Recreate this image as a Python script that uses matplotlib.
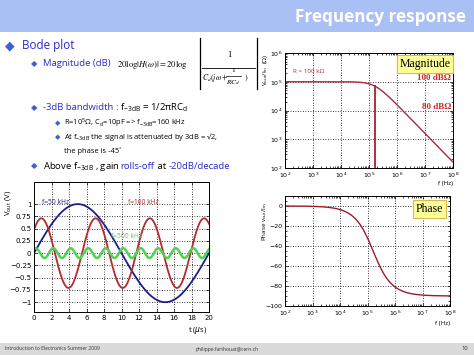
#!/usr/bin/env python3

import numpy as np
import matplotlib.pyplot as plt
from matplotlib.patches import Rectangle
from matplotlib.lines import Line2D

# Values
R_ohm = 1e5              # R = 100 kOhm
f_3db = 160e3            # -3dB frequency (Hz)
f_range = (1e2, 1e8)     # frequency axis (Hz)

# time-domain signals: label, period (us), amplitude (V), zero-crossing time (us), colour
sig_labels = ["f=50 kHz", "f=160 kHz", "f=500 kHz"]
sig_period_us = [20.0, 6.2, 2.0]
sig_amp = [1.0, 0.71, 0.1]
sig_t0 = [0.0, -0.71, -0.3]
sig_colors = ["#1c1c8c", "#b52a30", "#4fd24f"]
sig_lw = [1.3, 1.3, 1.8]

mag_ticks = [1e2, 1e3, 1e4, 1e5, 1e6]
phase_ticks = [0, -20, -40, -60, -80, -100]
vout_ticks = [1, 0.75, 0.5, 0.25, 0, -0.25, -0.5, -0.75, -1]
t_ticks = list(range(0, 21, 2))

W, H = 474, 355
BLUE_TXT = "#2a2ac8"
BULLET = "#3a5fdc"
SANS = ["Open Sans", "DejaVu Sans"]
SERIF = ["Liberation Serif", "DejaVu Serif"]
SUB = "$_{\\mathregular{%s}}$"
SUP = "$^{\\mathregular{%s}}$"


def px(x, y):
    return x / W, 1 - y / H


def axes_px(fig, left, top, right, bottom):
    return fig.add_axes([left / W, 1 - bottom / H, (right - left) / W, (bottom - top) / H])


def hline_px(fig, x0, x1, y0, y1, lw=0.8):
    fig.add_artist(Line2D([x0 / W, x1 / W], [1 - y0 / H, 1 - y1 / H],
                          transform=fig.transFigure, color="black", lw=lw))


def text_run(fig, x, y, parts, fontsize):
    # write a line made of several coloured pieces, one after the other
    xf = x / W
    for s, c in parts:
        t = fig.text(xf, 1 - y / H, s, color=c, fontsize=fontsize, family=SANS, va="center")
        fig.canvas.draw()
        xf = t.get_window_extent().x1 / (fig.dpi * fig.get_figwidth())


def style_axes(ax):
    ax.tick_params(which="both", direction="in", labelsize=4.5, top=True, right=True, pad=2,
                   length=2.5, width=0.5)
    ax.tick_params(which="minor", length=1.3)
    for s in ax.spines.values():
        s.set_linewidth(0.7)
    ax.grid(True, which="major", linestyle=(0, (1, 2)), color="black", linewidth=0.6)


fig = plt.figure(figsize=(W / 100, H / 100), dpi=100)
fig.patch.set_facecolor("white")

# header band and footer band
fig.add_artist(Rectangle(px(0, 32), 1, 32 / H, transform=fig.transFigure,
                         facecolor="#a9c0f5", edgecolor="none"))
fig.text(*px(466, 17), "Frequency response", color="white", fontsize=12.3,
         fontweight="bold", family=SANS, ha="right", va="center")
fig.add_artist(Rectangle(px(0, 355), 1, 12 / H, transform=fig.transFigure,
                         facecolor="#dadada", edgecolor="none"))
fig.text(*px(5, 349), "Introduction to Electronics Summer 2009", fontsize=3.6,
         color="#333333", family=SANS, va="center")
fig.text(*px(196, 349), "philippe.farthouat@cern.ch", fontsize=3.6,
         color="#333333", family=SANS, va="center")
fig.text(*px(468, 349), "10", fontsize=4.2, color="#333333", family=SANS,
         va="center", ha="right")

# bullet text
fig.text(*px(5, 46), "\u25C6", color=BULLET, fontsize=9, family=["DejaVu Sans"], va="center")
fig.text(*px(22, 46), "Bode plot", color=BLUE_TXT, fontsize=8.4, family=SANS, va="center")

for y in (64, 108, 166):
    fig.text(*px(31, y), "\u25C6", color=BULLET, fontsize=6, family=["DejaVu Sans"], va="center")
for y in (123, 137):
    fig.text(*px(55, y), "\u25C6", color=BULLET, fontsize=5, family=["DejaVu Sans"], va="center")

fig.text(*px(43, 64), "Magnitude (dB)", color=BLUE_TXT, fontsize=6.8, family=SANS, va="center")

# formula 20log|H(w)| = 20log | 1 / (C_d (jw + 1/RC_d)) |
fig.text(*px(117, 65), r"$\mathrm{20log}|H(\omega)| = \mathrm{20log}$", fontsize=6.2,
         va="center", math_fontfamily="stix")
hline_px(fig, 200, 200, 38, 89, lw=0.9)
hline_px(fig, 257, 257, 38, 89, lw=0.9)
fig.text(*px(229, 55), "1", fontsize=6.2, family=SERIF, ha="center", va="center")
hline_px(fig, 202, 255, 67.5, 67.5, lw=0.6)
fig.text(*px(202, 78), r"$C_d(j\omega+$", fontsize=5.6, va="center", math_fontfamily="stix")
fig.text(*px(233, 71), "1", fontsize=5.4, family=SERIF, ha="center", va="center")
hline_px(fig, 226, 241, 75.5, 75.5, lw=0.5)
fig.text(*px(233.5, 82.5), r"$RC_d$", fontsize=5.4, ha="center", va="center",
         math_fontfamily="stix")
fig.text(*px(244, 78), r"$)$", fontsize=5.8, va="center", math_fontfamily="stix")

text_run(fig, 43, 108, [("-3dB bandwidth", BLUE_TXT),
                        (" : f" + SUB % "-3dB" + " = 1/2\u03C0RC" + SUB % "d", "black")], 6.8)
text_run(fig, 64, 123, [("R=10" + SUP % "5" + "\u03A9, C" + SUB % "d" + "=10pF => f"
                         + SUB % "-3dB" + "=160 kHz", "black")], 5.4)
text_run(fig, 64, 137, [("At f" + SUB % "-3dB" + " the signal is attenuated by 3dB = \u221A2,",
                         "black")], 5.4)
text_run(fig, 64, 151, [("the phase is -45\u02DA", "black")], 5.4)
text_run(fig, 43, 166, [("Above f" + SUB % "-3dB" + " , gain ", "black"), ("rolls-off", BLUE_TXT),
                        (" at ", "black"), ("-20dB/decade", BLUE_TXT)], 6.8)

# Magnitude plot
freq = np.logspace(np.log10(f_range[0]), np.log10(f_range[1]), 500)
mag = R_ohm / np.sqrt(1 + (freq / f_3db) ** 2)
phase = -np.degrees(np.arctan(freq / f_3db))

ax_m = axes_px(fig, 285, 53, 453, 168)
ax_m.plot(freq, mag, color="#b0283a", lw=1.0)
ax_m.plot([f_3db, f_3db], [mag_ticks[0], R_ohm / np.sqrt(2)], color="#a82030", lw=1.3)
ax_m.set_xscale("log")
ax_m.set_yscale("log")
ax_m.set_xlim(*f_range)
ax_m.set_ylim(mag_ticks[0], mag_ticks[-1])
ax_m.set_yticks(mag_ticks)
style_axes(ax_m)
ax_m.text(2e2, 2.0e5, "R = 100 k\u03A9", color="#b0283a", fontsize=4.5, family=SANS)
ax_m.text(8.5e7, 1.35e5, "100 dB\u03A9", color="#d02828", fontsize=6.5, family=SERIF,
          fontweight="bold", ha="right", va="center")
ax_m.text(8.5e7, 1.35e4, "80 dB\u03A9", color="#d02828", fontsize=6.5, family=SERIF,
          fontweight="bold", ha="right", va="center")
ax_m.text(0.985, 0.96, "Magnitude", transform=ax_m.transAxes, ha="right", va="top",
          fontsize=8.5, family=SERIF,
          bbox=dict(boxstyle="square,pad=0.25", facecolor="#ffff99", edgecolor="#d8b850", lw=0.8))
fig.text(*px(265, 70), "V" + SUB % "out" + "/I" + SUB % "in" + "  (\u03A9)", rotation=90,
         fontsize=4.5, family=SANS, ha="center", va="center")
fig.text(*px(453, 184), "f (Hz)", fontsize=4.5, family=SANS, ha="right", va="center")

# Phase plot
ax_p = axes_px(fig, 285, 196, 450, 306)
ax_p.plot(freq, phase, color="#a01c2c", lw=1.0)
ax_p.set_xscale("log")
ax_p.set_xlim(*f_range)
ax_p.set_ylim(-100, 10)
ax_p.set_yticks(phase_ticks)
ax_p.set_yticklabels([str(v).replace("-", "\u2212") for v in phase_ticks])
ax_p.minorticks_on()
style_axes(ax_p)
ax_p.text(0.96, 0.94, "Phase", transform=ax_p.transAxes, ha="right", va="top",
          fontsize=8.5, family=SERIF,
          bbox=dict(boxstyle="square,pad=0.25", facecolor="#ffff99", edgecolor="#d8b850", lw=0.8))
fig.text(*px(265, 222), "Phase v" + SUB % "out" + "/I" + SUB % "in", rotation=90,
         fontsize=4.5, family=SANS, ha="center", va="center")
fig.text(*px(450, 323), "f (Hz)", fontsize=4.5, family=SANS, ha="right", va="center")

# Time-domain plot
t = np.linspace(0, 20, 800)
ax_t = axes_px(fig, 34, 182, 209, 312)
for T, A, t0, c, lw in zip(sig_period_us, sig_amp, sig_t0, sig_colors, sig_lw):
    ax_t.plot(t, A * np.sin(2 * np.pi * (t - t0) / T), color=c, lw=lw)
ax_t.set_xlim(0, 20)
ax_t.set_ylim(-1.2, 1.45)
ax_t.set_xticks(t_ticks)
ax_t.set_yticks(vout_ticks)
ax_t.set_yticklabels([("%g" % v).replace("-", "\u2212") for v in vout_ticks])
style_axes(ax_t)
ax_t.tick_params(labelsize=5)
ax_t.text(0.9, 1.03, sig_labels[0], color=sig_colors[0], fontsize=4.8, family=SANS, va="center")
ax_t.text(10.8, 1.03, sig_labels[1], color=sig_colors[1], fontsize=4.8, family=SANS, va="center")
ax_t.text(8.8, 0.33, sig_labels[2], color=sig_colors[2], fontsize=4.8, family=SANS, va="center")
fig.text(*px(8, 203), "V" + SUB % "out" + " (V)", rotation=90, fontsize=5.5, family=SANS,
         ha="center", va="center")
fig.text(*px(198, 330), "t ($\\mu$s)", fontsize=5.5, family=SANS, ha="center", va="center")

fig.savefig("out.png", dpi=100)
